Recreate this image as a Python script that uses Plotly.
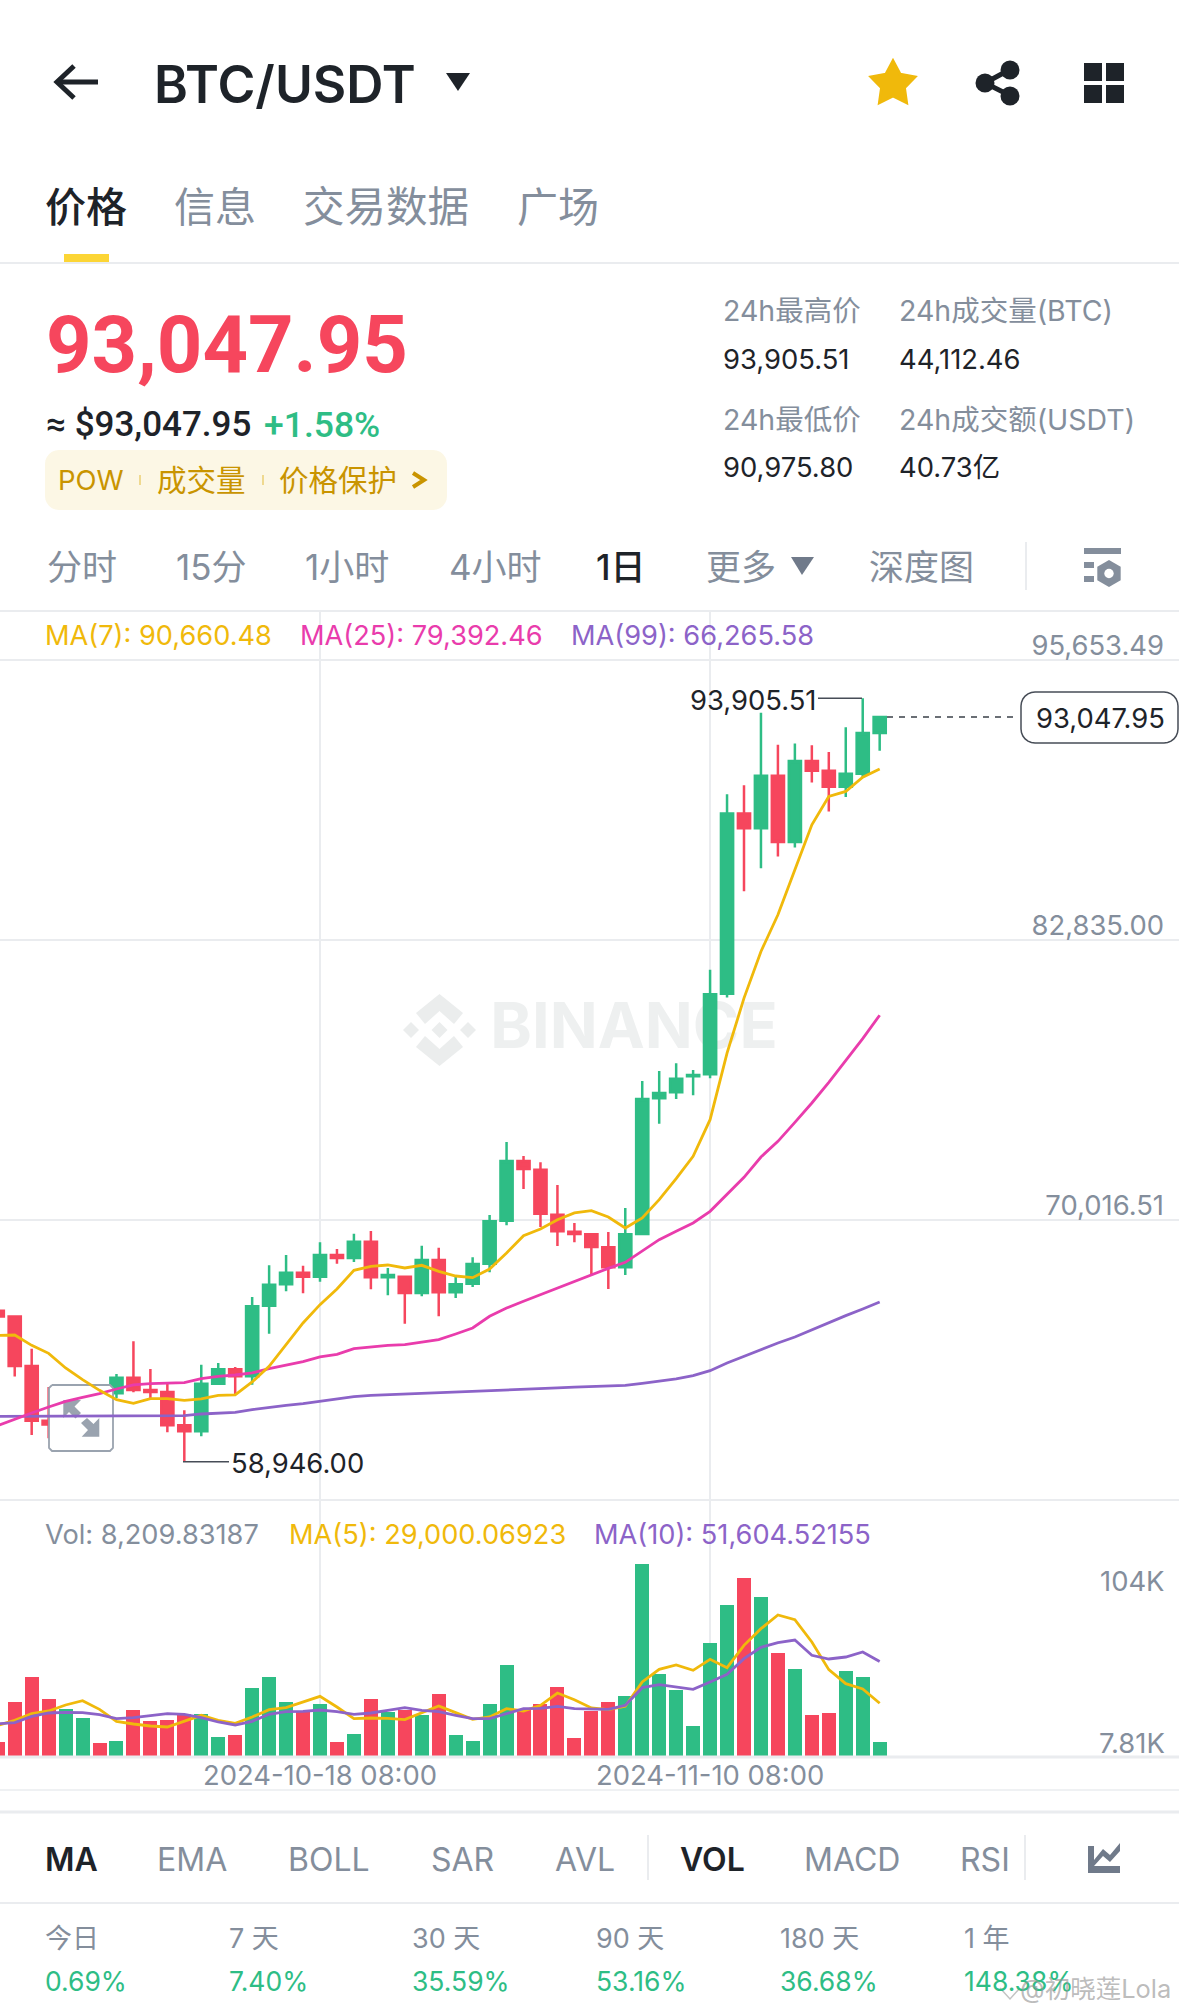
import math
import pandas as pd
import plotly.graph_objects as go

W, H = 1179, 2010
DAY_PX = 16.96
GRID = '#EAECEF'
GRAY = '#848E9C'
DARK = '#1E2329'
GREEN = '#2EBD85'
RED = '#F6465D'
YELLOW = '#F0B90B'
PINK = '#E93CAC'
PURPLE = '#8C63C8'
GOLD = '#C99400'
CN = "Inter, 'Noto Sans CJK SC'"

# Daily candles, 2024-09-29 to 2024-11-20
dates = pd.date_range('2024-09-29 08:00', periods=53, freq='D')
opens = [65858, 65602, 63327, 60830, 60650, 60750, 62090, 62090, 62799, 62235, 62143, 60617, 60342, 62525,
         63181, 62860, 66095, 67073, 67606, 67423, 68415, 68278, 69025, 67392, 67423, 66675, 68186, 66706,
         67102, 68018, 69987, 72718, 72321, 70261, 69483, 69361, 68766, 67850, 69376, 75588, 75862, 76597,
         76686, 80372, 88628, 87956, 90352, 87316, 91024, 90581, 89849, 90444, 92306]
highs = [66076, 65618, 64127, 62372, 61470, 62480, 62370, 62967, 64463, 63196, 62509, 61304, 63394, 63471,
         63287, 66492, 67942, 68415, 67926, 68995, 68690, 69391, 69514, 67820, 67469, 68842, 68750, 67438,
         68308, 70246, 73588, 72947, 72657, 71620, 69880, 69400, 69468, 70566, 76381, 76838, 77189, 76884,
         81471, 89513, 89925, 93236, 91771, 91833, 91756, 91436, 92580, 93905.51, 93047.95]
lows = [65426, 62856, 60174, 60022, 59828, 60460, 61680, 61868, 62128, 61860, 60296, 58946, 60113, 62479,
        62021, 62479, 64813, 66752, 66660, 67194, 68018, 68094, 66843, 66568, 65271, 66523, 65607, 66446,
        66950, 67621, 69773, 71436, 69697, 68827, 68995, 67514, 66858, 67499, 69315, 74427, 75557, 75724,
        76503, 80204, 85072, 86125, 86659, 87072, 90047, 88720, 89376, 90291, 91497]
closes = [65602, 63327, 60830, 60650, 60750, 62080, 62080, 62799, 62235, 62143, 60617, 60342, 62525, 63181,
          62860, 66065, 67057, 67606, 67423, 68415, 68278, 69025, 67392, 67499, 66675, 68186, 66706, 67072,
          68003, 69956, 72718, 72352, 70307, 69498, 69376, 68781, 67850, 69361, 75557, 75831, 76488, 76655,
          80357, 88628, 87956, 90352, 87316, 91024, 90581, 89849, 90444, 92306, 93047.95]
ma7 = [64737, 64752, 64279, 63913, 63242, 62708, 62219, 61792, 61624, 61838, 61838, 61762, 61823, 61990,
       62006, 62601, 63318, 64310, 65302, 66141, 66858, 67713, 67896, 67957, 67820, 67942, 67667, 67453,
       67377, 67774, 68506, 69300, 69605, 70032, 70338, 70444, 70155, 69651, 70109, 70948, 71909, 72932,
       74610, 77656, 80174, 82310, 83989, 86049, 88109, 89406, 89635, 90291, 90660.48]
ma25 = [60602, 60907, 61182, 61456, 61716, 61899, 62067, 62280, 62464, 62525, 62540, 62570, 62753, 62860,
        62921, 63013, 63211, 63379, 63531, 63745, 63867, 64127, 64218, 64279, 64310, 64417, 64539, 64798,
        65073, 65607, 65988, 66294, 66599, 66904, 67179, 67514, 67804, 68079, 68583, 69117, 69498, 69880,
        70414, 71207, 71971, 72901, 73618, 74488, 75373, 76320, 77311, 78319, 79392.46]
ma99 = [61029, 61029, 61029, 61044, 61044, 61044, 61059, 61059, 61059, 61044, 61044, 61059, 61136, 61182,
        61212, 61334, 61441, 61533, 61609, 61716, 61838, 61929, 61990, 62021, 62036, 62067, 62097, 62113,
        62150, 62180, 62230, 62260, 62300, 62330, 62370, 62400, 62430, 62449, 62536, 62622, 62742, 62888,
        63119, 63470, 63776, 64096, 64386, 64661, 64997, 65317, 65638, 65943, 66265.58]

volumes = [8100, 29700, 43200, 31140, 25740, 21060, 7560, 8640, 25560, 19260, 19800, 23400, 23400, 10620,
           11700, 37440, 43200, 29700, 24840, 28440, 8100, 12240, 31140, 24300, 25560, 22500, 34200, 11700,
           8640, 28800, 49860, 25560, 28800, 37980, 10440, 24840, 29520, 33120, 104000, 44640, 36360, 16740,
           61380, 81900, 96840, 86220, 56340, 47520, 22500, 23580, 46260, 43380, 8209.83]
vol_ma5 = [17100, 19800, 23400, 24840, 28080, 30420, 25740, 19260, 17820, 16740, 16200, 19440, 22500, 19800,
           18180, 21600, 25560, 26640, 29520, 32760, 27000, 20700, 21060, 20880, 20160, 23760, 27540, 23940,
           20340, 21600, 26100, 24840, 27900, 34560, 30960, 26460, 25560, 27360, 40500, 47340, 49680, 46800,
           52740, 48240, 60300, 69300, 76680, 74160, 62100, 47160, 39600, 36720, 29000.07]
vol_ma10 = [18000, 18540, 21960, 23760, 24120, 23940, 22860, 20700, 21240, 22320, 23400, 23040, 21240, 18900,
            17280, 19260, 23040, 24480, 24660, 25380, 24480, 23040, 23760, 25200, 26640, 25200, 24480, 22500,
            20700, 20700, 23400, 26100, 26280, 27360, 26100, 26100, 25740, 27900, 37440, 39060, 37800, 36540,
            40500, 44640, 53100, 59220, 61740, 63180, 54900, 52920, 54000, 56700, 51604.52]

price_ticks = [95653.49, 82835.00, 70016.51, 57198.02]
date_ticks = ['2024-10-18 08:00', '2024-11-10 08:00']

PX_PER_USD = 280 / 12818.49
VOL_PER_PX = 540
ref_time = pd.Timestamp(date_ticks[0])


# pixel position on the phone screenshot -> axis value
def px_date(x):
    return ref_time + pd.Timedelta(days=(x - 320) / DAY_PX)


def px_price(y):
    return price_ticks[0] - (y - 660) / PX_PER_USD


x_range = [px_date(0), px_date(W)]
fig = go.Figure()

# Base layer so the watermark sits behind the candles
fig.add_trace(go.Scatter(x=[634], y=[1032], mode='text', text=['BINANCE'], xaxis='x', yaxis='y',
                         textfont=dict(family='Inter', size=63, color='#EEF0F0', weight=700)))

fig.add_trace(go.Candlestick(x=dates, open=opens, high=highs, low=lows, close=closes, xaxis='x2', yaxis='y2',
                             increasing=dict(line=dict(color=GREEN, width=2.5), fillcolor=GREEN),
                             decreasing=dict(line=dict(color=RED, width=2.5), fillcolor=RED),
                             whiskerwidth=0))


def add_icon_poly(points, fill, line_color=None):
    xs = [px_date(p[0]) for p in points]
    ys = [px_price(p[1]) for p in points]
    fig.add_trace(go.Scatter(x=xs, y=ys, mode='lines', fill='toself', fillcolor=fill, xaxis='x2', yaxis='y2',
                             line=dict(color=line_color or fill, width=1.8 if line_color else 0)))


# zoom button over the candles, under the MA lines
add_icon_poly([(52, 1385), (110, 1385), (113, 1388), (113, 1448), (110, 1451), (52, 1451), (49, 1448), (49, 1388), (52, 1385)],
              '#FFFFFF', '#9AA3AF')
add_icon_poly([(63.3, 1400), (81, 1400), (74.5, 1406.5), (81, 1413), (75.5, 1418.5), (69, 1412), (63.3, 1418)], '#9AA3AF')
add_icon_poly([(99.3, 1436.7), (81.7, 1436.7), (88, 1430), (81, 1423), (87, 1418), (93.5, 1424), (99.3, 1418)], '#9AA3AF')

for values, color in [(ma99, PURPLE), (ma25, PINK), (ma7, YELLOW)]:
    fig.add_trace(go.Scatter(x=dates, y=values, mode='lines', line=dict(color=color, width=2.8), xaxis='x2', yaxis='y2'))

bar_colors = [GREEN if c >= o else RED for o, c in zip(opens, closes)]
fig.add_trace(go.Bar(x=dates, y=volumes, marker=dict(color=bar_colors, line=dict(width=0)), xaxis='x3', yaxis='y3',
                     width=14 / DAY_PX * 86400000))
for values, color in [(vol_ma5, YELLOW), (vol_ma10, PURPLE)]:
    fig.add_trace(go.Scatter(x=dates, y=values, mode='lines', line=dict(color=color, width=2.8), xaxis='x3', yaxis='y3'))

shapes = []
annotations = []


def text(x, y, s, size=27.4, color=GRAY, anchor='left', weight=400, family=CN):
    if anchor == 'left':
        x -= 2
    annotations.append(dict(x=x / W, y=1 - y / H, xref='paper', yref='paper', text=s, showarrow=False, xanchor=anchor,
                            yanchor='middle', borderpad=0, font=dict(family=family, size=size, color=color, weight=weight)))


def hline(y, width=2, color=GRID, x0=0, x1=W, yref='paper', dash='solid'):
    y_val = 1 - y / H if yref == 'paper' else y
    shapes.append(dict(type='line', xref='paper', yref=yref, x0=x0 / W, x1=x1 / W, y0=y_val, y1=y_val,
                       layer='above', line=dict(color=color, width=width, dash=dash)))


def vline(x, y0, y1, width=2, color=GRID):
    shapes.append(dict(type='line', xref='paper', yref='paper', x0=x / W, x1=x / W, y0=1 - y0 / H, y1=1 - y1 / H,
                       line=dict(color=color, width=width)))


def poly(points, fill, line_width=0, line_color=None, close=True, layer='above'):
    path = 'M ' + ' L '.join(f'{p[0] / W:.5f} {1 - p[1] / H:.5f}' for p in points) + (' Z' if close else '')
    shapes.append(dict(type='path', xref='paper', yref='paper', path=path, fillcolor=fill, layer=layer,
                       line=dict(width=line_width, color=line_color or fill)))


def rect(x0, y0, x1, y1, fill):
    shapes.append(dict(type='rect', xref='paper', yref='paper', x0=x0 / W, x1=x1 / W, y0=1 - y0 / H, y1=1 - y1 / H,
                       fillcolor=fill, line=dict(width=0)))


def circle(cx, cy, r, fill, line_width=0, line_color=None):
    shapes.append(dict(type='circle', xref='paper', yref='paper', x0=(cx - r) / W, x1=(cx + r) / W, y0=1 - (cy + r) / H,
                       y1=1 - (cy - r) / H, fillcolor=fill, line=dict(width=line_width, color=line_color or fill)))


def round_rect(x0, y0, x1, y1, r, fill, line_width=0, line_color=None):
    pts = []
    for cx, cy, start in [(x1 - r, y0 + r, -90), (x1 - r, y1 - r, 0), (x0 + r, y1 - r, 90), (x0 + r, y0 + r, 180)]:
        for k in range(7):
            a = math.radians(start + k * 15)
            pts.append((cx + r * math.cos(a), cy + r * math.sin(a)))
    poly(pts, fill, line_width, line_color)


# header
poly([(98, 82), (60, 82)], DARK, 5, DARK, close=False)
poly([(74, 66), (57, 82), (74, 98)], 'rgba(0,0,0,0)', 5, DARK, close=False)
text(155, 84, 'BTC/USDT', 51.5, DARK, weight=600, family='Inter')
poly([(446, 73), (470, 73), (458, 91)], DARK)
star = []
for k in range(10):
    r = 23 if k % 2 == 0 else 12
    a = math.radians(-90 + k * 36)
    star.append((893 + r * math.cos(a), 84 + r * math.sin(a)))
poly(star, YELLOW, 3, YELLOW)
poly([(1009, 70), (985, 83), (1009, 95)], 'rgba(0,0,0,0)', 5, DARK, close=False)
circle(985, 83, 9.5, DARK)
circle(1010, 70, 9.5, DARK)
circle(1010, 96, 9.5, DARK)
rect(1084, 63, 1102, 81, DARK)
rect(1106, 63, 1124, 81, DARK)
rect(1084, 85, 1102, 103, DARK)
rect(1106, 85, 1124, 103, DARK)

# tabs
text(46, 207, '价格', 41, DARK, weight=500)
text(175, 207, '信息', 41)
text(304, 207, '交易数据', 41.5)
text(518, 207, '广场', 41)
rect(64, 254, 109, 262, '#FCD535')
hline(263)

# price block
text(47, 345, '93,047.95', 79.5, RED, weight=700, family='Roboto')
text(47, 425, '≈ $93,047.95', 35, DARK, weight=500, family='Roboto')
text(265, 425, '+1.58%', 35.5, GREEN, weight=500, family='Roboto')
round_rect(45, 450, 447, 510, 14, '#FCF7E5')
text(59, 480, 'POW', 27.5, GOLD, family='Inter')
rect(139, 475, 141, 485, '#EFD98F')
text(158, 480, '成交量', 29.5, GOLD)
rect(262, 475, 264, 485, '#EFD98F')
text(280, 480, '价格保护', 29.5, GOLD)
poly([(413, 473), (424, 480), (413, 487)], 'rgba(0,0,0,0)', 4, GOLD, close=False)

for x, label, value in [(724, '24h最高价', '93,905.51'), (900, '24h成交量(BTC)', '44,112.46')]:
    text(x, 311, label, 28.5)
    text(x, 359, value, 27.4, DARK)
for x, label, value in [(724, '24h最低价', '90,975.80'), (900, '24h成交额(USDT)', '40.73亿')]:
    text(x, 419, label, 28.5)
    text(x, 467, value, 27.4, DARK)

# interval row
for x, label in [(48, '分时'), (177, '15分'), (306, '1小时'), (450, '4小时'), (707, '更多'), (870, '深度图')]:
    text(x, 567, label, 35)
text(597, 567, '1日', 35, DARK, weight=500)
poly([(791, 557), (814, 557), (802, 575)], '#707A8A')
vline(1026, 542, 590)
rect(1084, 548, 1121, 554, GRAY)
rect(1084, 562, 1094, 568, GRAY)
rect(1084, 576, 1094, 582, GRAY)
hexagon = []
for k in range(6):
    a = math.radians(-90 + k * 60)
    hexagon.append((1109 + 13.5 * math.cos(a), 573.5 + 13.5 * math.sin(a)))
poly(hexagon, GRAY)
circle(1109, 573.5, 4.7, '#FFFFFF')
hline(611)

# price pane legend
text(46, 635, 'MA(7): 90,660.48', 27.2, YELLOW)
text(301, 635, 'MA(25): 79,392.46', 27.2, PINK)
text(572, 635, 'MA(99): 66,265.58', 27.2, PURPLE)

# high, low and last price labels
text(817, 700, '93,905.51', 27.4, DARK, anchor='right')
hline(highs[51], 1.5, '#474D57', 818, 862, 'y2')
text(232, 1463, '58,946.00', 27.4, DARK)
hline(lows[11], 1.5, '#474D57', 183, 229, 'y2')
hline(closes[-1], 1.5, '#3A4048', 887, 1014, 'y2', dash='6px,6px')
round_rect(1021, 692, 1178, 743, 14, '#FFFFFF', 1.5, '#474D57')
text(1100, 718, '93,047.95', 27.4, DARK, anchor='center')

# BINANCE logo behind the chart
logo = '#EBEDED'
poly([(439.5, 1022), (447.5, 1030), (439.5, 1038), (431.5, 1030)], logo, layer='below')
poly([(411, 1022), (419, 1030), (411, 1038), (403, 1030)], logo, layer='below')
poly([(468, 1022), (476, 1030), (468, 1038), (460, 1030)], logo, layer='below')
poly([(439.5, 994), (463, 1013), (454, 1024), (439.5, 1011), (425, 1024), (416, 1013)], logo, layer='below')
poly([(439.5, 1066), (463, 1047), (454, 1036), (439.5, 1049), (425, 1036), (416, 1047)], logo, layer='below')

# volume pane text
hline(1500, 2)
text(46, 1534, 'Vol: 8,209.83187', 27.2)
text(290, 1534, 'MA(5): 29,000.06923', 27.2, YELLOW)
text(595, 1534, 'MA(10): 51,604.52155', 27.2, PURPLE)
annotations.append(dict(x=1167 / W, y=104000, xref='paper', yref='y3', text='104K', showarrow=False, xanchor='right',
                        yanchor='middle', yshift=-17, font=dict(family='Inter', size=27.4, color=GRAY)))
annotations.append(dict(x=1167 / W, y=7810, xref='paper', yref='y3', text='7.81K', showarrow=False, xanchor='right',
                        yanchor='middle', font=dict(family='Inter', size=27.4, color=GRAY)))
hline(1757, 3)
hline(1790, 1.5)
hline(1812, 3)

# indicator row
for x, label in [(158, 'EMA'), (289, 'BOLL'), (432, 'SAR'), (556, 'AVL'), (805, 'MACD'), (961, 'RSI')]:
    text(x, 1859, label, 32)
text(46, 1859, 'MA', 32, DARK, weight=600)
text(681, 1859, 'VOL', 32, DARK, weight=600)
vline(648, 1835, 1880)
vline(1025, 1835, 1880)
poly([(1088, 1846), (1094, 1846), (1094, 1860), (1103, 1849), (1110, 1855), (1120, 1843), (1120, 1851), (1110, 1862),
      (1103, 1856), (1094, 1866), (1120, 1866), (1120, 1873), (1088, 1873)], '#707A8A')

hline(1903)

# change row
for x, label, value in [(46, '今日', '0.69%'), (230, '7 天', '7.40%'), (413, '30 天', '35.59%'), (597, '90 天', '53.16%'),
                        (781, '180 天', '36.68%'), (965, '1 年', '148.38%')]:
    text(x, 1938, label, 27)
    text(x, 1981, value, 26.5, GREEN)
poly([(1000, 1988), (1010, 1999), (1020, 1988)], 'rgba(0,0,0,0)', 1.5, 'rgba(170,170,170,0.7)', close=False)
text(1172, 1988, '@初晓莲Lola', 25.5, 'rgba(150,150,150,0.65)', anchor='right')

grid_x = dict(range=x_range, domain=[0, 1], type='date', showgrid=True, gridcolor=GRID, gridwidth=1.5, tickvals=date_ticks,
              zeroline=False, showline=False, ticks='', automargin=False, rangeslider=dict(visible=False), fixedrange=True)

fig.update_layout(
    width=W, height=H, margin=dict(l=0, r=0, t=0, b=0, pad=0), plot_bgcolor='rgba(0,0,0,0)', paper_bgcolor='white',
    showlegend=False, boxgap=0.08, boxgroupgap=0.22, bargap=0, hovermode=False,
    shapes=shapes, annotations=annotations,
    xaxis=dict(range=[0, W], domain=[0, 1], visible=False),
    yaxis=dict(range=[H, 0], domain=[0, 1], visible=False),
    xaxis2=dict(grid_x, anchor='y2', showticklabels=False),
    xaxis3=dict(grid_x, anchor='y3', ticktext=date_ticks, tickfont=dict(family='Inter', size=27.4, color=GRAY)),
    yaxis2=dict(domain=[1 - 1500 / H, 1 - 611 / H], range=[px_price(1500), px_price(611)], anchor='x2', side='right',
                tickvals=price_ticks, tickformat=',.2f', ticklabelposition='inside', ticklabelshift=-15,
                ticklabelstandoff=12, ticks='', showgrid=True, gridcolor=GRID, gridwidth=1.5, zeroline=False,
                showline=False, automargin=False, tickfont=dict(family='Inter', size=27.4, color=GRAY)),
    yaxis3=dict(domain=[1 - 1757 / H, 1 - 1500 / H], range=[0, 257 * VOL_PER_PX], anchor='x3', showgrid=False,
                zeroline=False, showticklabels=False, ticks='', showline=False, automargin=False),
)

fig.write_html("out.html", config={'displayModeBar': False},
               post_script="document.body.style.margin='0';document.body.style.overflow='hidden';")
